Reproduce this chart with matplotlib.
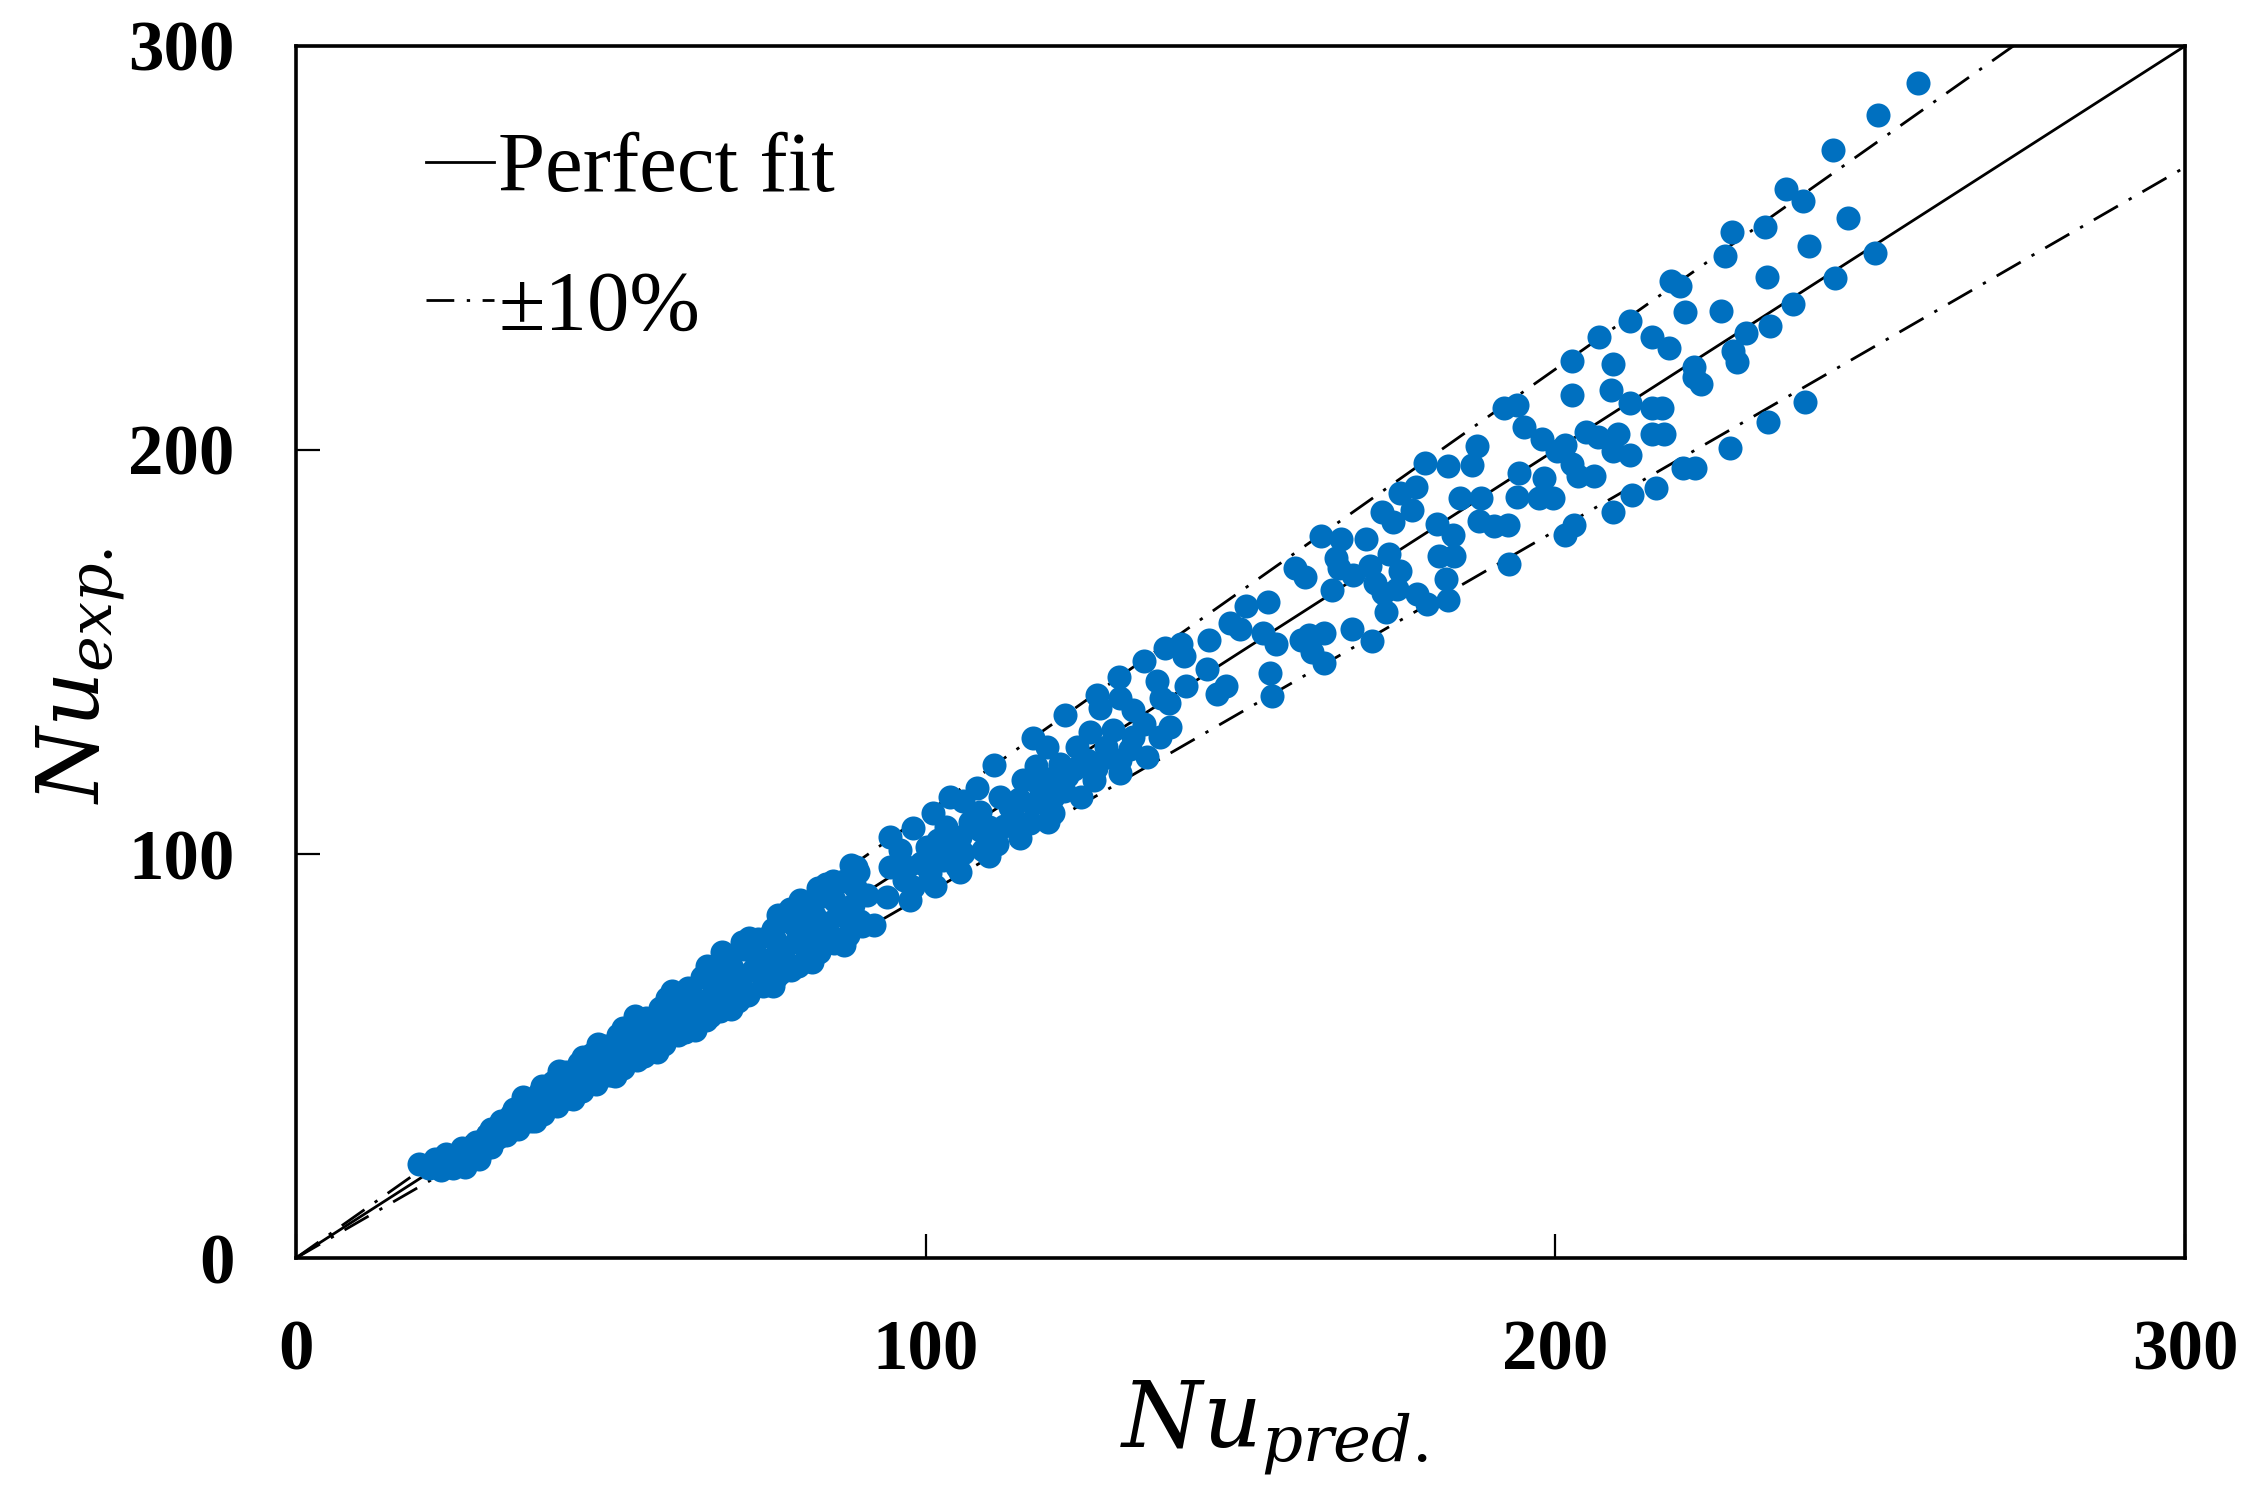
import matplotlib.pyplot as plt

# digitised points (Nu_pred, Nu_exp)
# dense band at low Nu
band_pts = [
    (19.6, 23.2), (21.2, 22.4), (22.1, 24.6), (23.0, 21.9), (23.8, 25.8), (24.9, 22.3),
    (25.6, 24.1), (26.4, 27.2), (26.9, 22.6), (27.7, 25.3), (28.6, 28.8), (29.1, 24.4),
    (29.8, 26.9), (30.4, 30.5), (31.0, 27.6), (31.9, 29.6), (32.6, 33.8), (33.3, 30.4),
    (33.9, 32.3), (34.6, 36.9), (35.2, 31.9), (35.9, 34.6), (36.7, 38.6), (37.3, 33.9),
    (37.9, 36.4), (38.8, 41.2), (39.3, 35.7), (40.0, 38.8), (40.9, 43.5), (41.4, 37.6),
    (42.1, 40.7), (42.9, 46.0), (43.4, 39.6), (44.2, 42.9), (44.9, 48.2), (45.5, 41.4),
    (46.3, 45.1), (47.0, 50.4), (47.6, 43.2), (48.4, 47.0), (49.0, 52.6), (49.7, 45.4),
    (50.5, 49.5), (51.2, 55.1), (51.9, 47.0), (52.6, 51.3), (53.3, 57.4), (54.1, 49.1),
    (54.8, 53.6), (55.6, 59.3), (56.3, 51.2), (57.0, 55.7), (57.8, 61.9), (58.4, 53.0),
    (59.2, 58.0), (60.0, 64.6), (60.7, 55.1), (61.5, 60.2), (62.3, 66.8), (62.9, 57.2),
    (63.7, 62.3), (64.5, 69.5), (65.1, 59.0), (65.9, 64.6), (66.7, 71.6), (67.4, 61.2),
    (68.1, 66.9), (68.9, 74.0), (69.6, 63.3), (70.4, 69.5), (71.2, 76.6), (71.8, 65.2),
    (72.6, 71.4), (73.4, 78.9), (74.1, 67.3), (74.9, 73.8), (75.7, 81.4), (76.3, 69.5),
    (77.1, 76.0), (77.9, 83.7), (78.6, 71.4), (79.4, 78.3), (80.2, 86.2), (80.8, 73.6),
    (81.6, 80.6), (82.4, 88.5), (83.1, 75.8), (83.9, 82.9), (84.7, 90.7), (85.4, 77.9),
    (86.1, 85.0), (87.0, 93.4), (87.6, 79.9), (88.4, 87.3), (89.3, 95.6), (89.9, 82.3),
    (90.7, 89.8),
    (30.9, 31.9), (34.1, 35.4), (37.5, 39.0), (40.6, 41.9), (43.8, 45.8), (46.8, 48.3),
    (50.1, 52.4), (53.0, 54.3), (56.5, 58.9), (59.6, 61.6), (62.8, 65.3), (66.2, 68.6),
    (69.3, 71.9), (72.8, 75.6), (76.0, 78.8), (79.1, 82.5), (82.2, 85.0), (85.5, 88.6),
    (88.7, 91.9),
    (32.2, 30.8), (36.1, 34.0), (39.7, 37.9), (43.0, 40.7), (46.5, 44.0), (49.8, 47.6),
    (53.6, 50.8), (56.9, 54.2), (60.3, 57.6), (63.9, 60.5), (67.0, 63.9), (70.6, 67.0),
    (74.3, 70.6), (77.5, 73.9), (81.0, 77.0), (84.6, 80.3), (88.0, 83.9),
    (85.3, 93.2), (89.0, 96.9), (80.0, 88.6), (67.6, 75.8), (89.6, 83.3), (65.7, 59.8),
    (68.9, 62.3), (76.9, 70.5), (83.7, 81.2),
    (72.0, 79.3), (78.5, 86.4), (84.1, 92.6), (75.2, 68.1), (58.9, 64.4), (52.0, 56.9),
    (45.6, 49.7), (39.1, 42.6), (55.2, 50.1), (61.8, 56.0), (70.2, 63.6), (79.8, 72.4),
    (36.0, 39.8), (41.8, 46.2), (47.9, 53.1), (53.8, 59.8), (59.7, 66.0), (65.3, 72.4),
    (70.8, 78.3), (76.6, 84.8), (82.9, 91.5), (88.2, 97.4),
    (37.9, 33.8), (44.0, 39.3), (50.6, 45.0), (57.4, 51.0), (63.3, 56.4), (69.1, 61.6),
    (75.8, 67.4), (82.0, 73.2), (87.0, 77.6), (91.8, 82.4),
]

# 90 < Nu_pred < 140
mid_pts = [
    (127.2, 139.4), (130.9, 138.5), (122.1, 134.4), (127.7, 136.1), (133.0, 135.6),
    (126.1, 130.3), (129.8, 130.7), (134.6, 132.3), (137.2, 129.0), (138.8, 131.5),
    (117.1, 128.6), (119.2, 126.6), (124.0, 126.6), (110.8, 122.0), (121.4, 122.4),
    (125.6, 123.3), (130.9, 123.3), (135.1, 124.1), (130.9, 120.0), (115.5, 118.3),
    (118.1, 116.7), (122.4, 119.2), (126.7, 118.3), (108.1, 116.3), (103.9, 114.2),
    (106.0, 113.0), (111.8, 114.2), (120.3, 114.2), (124.6, 114.2), (108.6, 110.5),
    (113.9, 109.3), (116.6, 107.6), (120.3, 110.1), (101.2, 110.1), (98.0, 106.4),
    (103.3, 106.8), (105.5, 104.3), (108.6, 105.9), (111.3, 102.6), (109.1, 101.0),
    (94.3, 104.3), (95.9, 101.0), (100.2, 101.8), (104.9, 96.9), (100.7, 95.2),
    (98.0, 91.9), (94.3, 96.9), (93.8, 89.4), (102.8, 98.5), (106.0, 100.2),
    (97.0, 96.9), (113.4, 111.7), (117.6, 121.7), (128.7, 126.6), (133.0, 129.0),
    (96.5, 93.5), (99.3, 97.8), (102.0, 103.5), (104.2, 100.5), (107.0, 108.0),
    (110.0, 106.6), (112.5, 107.0), (114.8, 113.6), (117.0, 112.5), (119.5, 118.5),
    (122.0, 115.5), (123.5, 121.0), (127.0, 121.2), (129.0, 124.0), (132.5, 126.0),
    (97.5, 88.5), (101.5, 92.0), (105.5, 95.5), (110.0, 99.5), (115.0, 104.0),
    (119.5, 108.0),
]

# 130 < Nu_pred < 215
upper_pts = [
    (211.8, 232.0), (207.0, 227.9), (202.7, 222.0), (209.1, 221.3), (202.6, 213.7),
    (208.8, 214.9), (191.8, 210.5), (193.9, 211.1), (211.8, 211.6), (195.0, 205.8),
    (204.9, 204.5), (206.7, 203.1), (210.0, 204.0), (197.9, 202.6), (200.3, 199.8),
    (201.5, 201.2), (209.1, 199.8), (211.8, 198.8), (187.5, 201.0), (202.7, 196.5),
    (206.1, 193.6), (203.6, 193.6), (194.2, 194.3), (198.2, 193.1), (179.3, 196.7),
    (182.9, 196.0), (186.8, 196.2), (212.2, 188.9), (175.4, 189.4), (177.8, 190.8),
    (184.8, 188.0), (188.2, 188.1), (193.9, 188.4), (197.4, 188.0), (199.6, 188.0),
    (172.4, 184.6), (174.2, 182.1), (177.2, 185.1), (181.2, 181.8), (187.9, 182.4),
    (190.3, 181.3), (192.4, 181.5), (203.0, 181.5), (201.5, 178.9), (209.1, 184.6),
    (162.8, 178.6), (166.0, 178.0), (169.9, 178.0), (183.7, 178.9), (165.1, 173.3),
    (165.7, 170.9), (173.6, 174.2), (181.5, 173.7), (183.9, 173.7), (192.7, 171.8),
    (158.7, 170.9), (160.2, 168.5), (167.8, 169.0), (170.5, 171.4), (175.4, 170.0),
    (171.4, 167.1), (172.6, 164.7), (174.8, 165.7), (182.7, 168.1), (164.6, 165.4),
    (178.1, 164.3), (179.6, 161.9), (183.0, 162.9), (173.1, 160.0), (150.8, 161.4),
    (154.3, 162.3), (148.3, 157.2), (149.9, 155.7), (145.0, 152.9), (153.5, 154.8),
    (155.6, 151.9), (159.6, 152.9), (160.8, 154.3), (163.2, 154.8), (161.4, 150.1),
    (163.2, 147.4), (167.7, 155.7), (170.8, 152.7), (138.0, 151.0), (140.5, 151.9),
    (141.1, 149.1), (134.7, 147.7), (144.7, 145.8), (136.7, 142.9), (141.4, 141.5),
    (147.7, 141.5), (146.2, 139.7), (154.7, 144.8), (155.0, 139.2), (130.7, 143.9),
    (137.4, 138.7), (138.6, 137.3),
]

# Nu_pred > 215
top_pts = [
    (257.6, 290.9), (251.2, 282.9), (244.1, 274.2), (236.7, 264.6), (239.4, 261.6),
    (246.5, 257.5), (228.0, 253.9), (233.3, 255.3), (226.9, 248.1), (240.3, 250.6),
    (250.7, 248.7), (218.4, 241.9), (219.8, 240.6), (233.6, 242.9), (244.4, 242.5),
    (220.6, 234.1), (226.3, 234.5), (237.7, 236.1), (215.3, 228.0), (218.1, 225.2),
    (230.2, 228.9), (234.1, 230.6), (228.2, 224.5), (228.8, 221.7), (222.0, 220.6),
    (222.0, 218.0), (223.2, 216.4), (217.0, 210.4), (215.4, 210.4), (217.3, 203.9),
    (215.4, 204.0), (239.7, 211.9), (233.8, 206.9), (227.7, 200.6), (220.2, 195.6),
    (222.1, 195.6), (216.0, 190.5),
]

all_pts = band_pts + mid_pts + upper_pts + top_pts
nu_pred = [p[0] for p in all_pts]
nu_exp = [p[1] for p in all_pts]

fit_x = [0, 300]
fit_y = [0, 300]
plus10_y = [0, 330]
minus10_y = [0, 270]

ticks = [0, 100, 200, 300]
tick_labels = ['0', '100', '200', '300']

plt.rcParams['font.family'] = ['Liberation Serif', 'DejaVu Serif']
plt.rcParams['mathtext.fontset'] = 'dejavuserif'

fig = plt.figure(figsize=(11.33, 7.535), dpi=200)
ax = fig.add_axes([0.1306, 0.1652, 0.8337, 0.8043])

dash = (10, 4.5, 1.2, 4.5)
ax.plot(fit_x, fit_y, color='black', lw=1.0, label='Perfect fit', zorder=2)
ax.plot(fit_x, plus10_y, color='black', lw=1.0, dashes=dash, label='±10%', zorder=2)
ax.plot(fit_x, minus10_y, color='black', lw=1.0, dashes=dash, zorder=2)
ax.scatter(nu_pred, nu_exp, s=75, color='#0070C0', linewidths=0, zorder=3)

ax.set_xlim(0, 300)
ax.set_ylim(0, 300)
ax.set_xticks(ticks, tick_labels, fontsize=25.5, fontweight='bold')
ax.set_yticks(ticks, tick_labels, fontsize=25.5, fontweight='bold')
ax.tick_params(direction='in', length=8.5, width=0.8, pad=22, top=False, right=False)
for sp in ax.spines.values():
    sp.set_linewidth(1.3)

ax.set_xlabel('$Nu_{pred.}$', fontsize=33)
ax.xaxis.set_label_coords(0.518, -0.157)
ax.xaxis.label.set_va('baseline')
ax.set_ylabel('$Nu_{exp.}$', fontsize=31)
ax.yaxis.set_label_coords(-0.104, 0.48)
ax.yaxis.label.set_va('baseline')

ax.legend(loc='upper left', bbox_to_anchor=(0.069, 0.929), frameon=False, fontsize=30.5,
          handlelength=0.8, handletextpad=0.05, labelspacing=0.72,
          borderpad=0, borderaxespad=0)

fig.savefig('out.png', dpi=200)
